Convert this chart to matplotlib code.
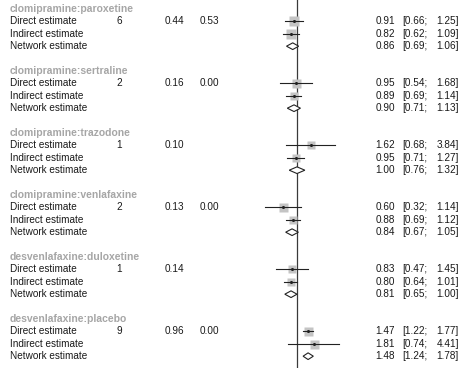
import numpy as np
import matplotlib
matplotlib.use("Agg")
import matplotlib.pyplot as plt

plt.rcParams['font.family'] = ['Liberation Sans', 'DejaVu Sans']

comparisons = ["clomipramine:paroxetine", "clomipramine:sertraline",
               "clomipramine:trazodone", "clomipramine:venlafaxine",
               "desvenlafaxine:duloxetine", "desvenlafaxine:placebo"]
n_studies = ["6", "2", "1", "2", "1", "9"]
prop_direct = ["0.44", "0.16", "0.10", "0.13", "0.14", "0.96"]
i2 = ["0.53", "0.00", "", "0.00", "", "0.00"]
row_labels = ["Direct estimate", "Indirect estimate", "Network estimate"]

# [direct, indirect, network] per comparison: (estimate, lower, upper)
est = [[0.91, 0.82, 0.86], [0.95, 0.89, 0.90], [1.62, 0.95, 1.00],
       [0.60, 0.88, 0.84], [0.83, 0.80, 0.81], [1.47, 1.81, 1.48]]
lower = [[0.66, 0.62, 0.69], [0.54, 0.69, 0.71], [0.68, 0.71, 0.76],
         [0.32, 0.69, 0.67], [0.47, 0.64, 0.65], [1.22, 0.74, 1.24]]
upper = [[1.25, 1.09, 1.06], [1.68, 1.14, 1.13], [3.84, 1.27, 1.32],
         [1.14, 1.12, 1.05], [1.45, 1.01, 1.00], [1.77, 4.41, 1.78]]

# style: square side in pixels for direct / indirect rows
square_px = [[10, 10], [9, 8], [8.5, 8], [9, 8], [8, 8], [9, 9]]

W, H, DPI = 474, 368, 100
fig = plt.figure(figsize=(W / DPI, H / DPI), dpi=DPI)

row_h = 12.4
y0 = 9.0
ylim = ((H - y0) / row_h, -y0 / row_h)

# text axes (pixel x, row y)
axt = fig.add_axes([0, 0, 1, 1])
axt.set_xlim(0, W)
axt.set_ylim(*ylim)
axt.axis('off')

# forest axes, log scale
xl, xr = 0.125, 8.0
px_per_ln = 28.3
x_ref = 297.0
left_px = x_ref + np.log(xl) * px_per_ln
right_px = x_ref + np.log(xr) * px_per_ln
ax = fig.add_axes([left_px / W, 0, (right_px - left_px) / W, 1])
ax.set_xscale('log')
ax.set_xlim(xl, xr)
ax.set_ylim(*ylim)
ax.axis('off')
ax.patch.set_alpha(0)

ax.axvline(1.0, color='#3a3a3a', lw=0.9, zorder=1)

fs = 7.2
txt_col = '#1a1a1a'
for g, comp in enumerate(comparisons):
    base = g * 5
    axt.text(10, base, comp, color='#a6a6a6', fontsize=7.5, fontweight='bold',
             va='center', ha='left')
    for k, lab in enumerate(row_labels):
        r = base + 1 + k
        axt.text(10, r, lab, color=txt_col, fontsize=fs, va='center', ha='left')
        e, lo, hi = est[g][k], lower[g][k], upper[g][k]
        axt.text(395, r, f"{e:.2f}", color=txt_col, fontsize=fs, va='center', ha='right')
        axt.text(402, r, f"[{lo:.2f};", color=txt_col, fontsize=fs, va='center', ha='left')
        axt.text(459, r, f"{hi:.2f}]", color=txt_col, fontsize=fs, va='center', ha='right')
        if k < 2:
            ms = square_px[g][k] * 72 / DPI
            ax.plot([e], [r], marker='s', ms=ms, color='#c4c4c4', mec='none', zorder=2)
            ax.plot([lo, hi], [r, r], color='#222222', lw=0.8, zorder=3)
            ax.plot([e], [r], marker='o', ms=1.2, color='#222222', zorder=4)
        else:
            dh = 0.27
            ax.fill([lo, e, hi, e, lo], [r, r - dh, r, r + dh, r],
                    facecolor='white', edgecolor='#222222', lw=0.8, zorder=3)
    r = base + 1
    axt.text(122, r, n_studies[g], color=txt_col, fontsize=fs, va='center', ha='right')
    axt.text(184, r, prop_direct[g], color=txt_col, fontsize=fs, va='center', ha='right')
    if i2[g]:
        axt.text(219, r, i2[g], color=txt_col, fontsize=fs, va='center', ha='right')

fig.savefig('out.png', dpi=DPI, facecolor='white')
